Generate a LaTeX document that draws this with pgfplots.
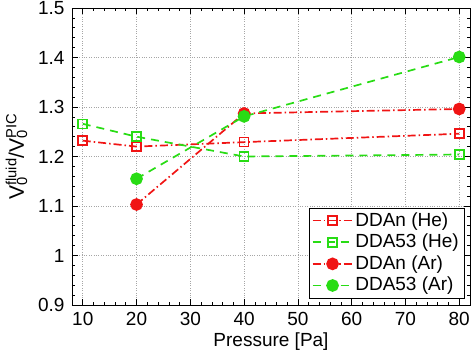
\documentclass[border=0pt]{standalone}
\usepackage{fontspec}
\setmainfont{Liberation Sans}
\usepackage{pgfplots}
\pgfplotsset{compat=1.18}
\definecolor{myred}{RGB}{240,20,20}
\definecolor{mygreen}{RGB}{40,220,20}
\begin{document}
\fontsize{19}{22}\selectfont
\begin{tikzpicture}
\begin{axis}[
  scale only axis,
  width=398pt, height=297pt,
  xmin=8, xmax=82, ymin=0.9, ymax=1.5,
  xtick={10,20,...,80},
  ytick={0.9,1,1.1,1.2,1.3,1.4,1.5},
  yticklabels={0.9,1,1.1,1.2,1.3,1.4,1.5},
  minor x tick num=4,
  minor y tick num=4,
  tick align=inside,
  major tick length=6pt, minor tick length=3pt,
  tick style={black, line width=0.6pt},
  axis line style={line width=0.8pt},
  grid=major,
  major grid style={gray!70, dotted, line width=0.7pt},
  /pgf/number format/assume math mode=true,
  ticklabel style={font=\fontsize{19}{22}\selectfont},
  xticklabel style={yshift=-1pt},
  yticklabel style={xshift=-1pt},
  label style={font=\fontsize{19}{22}\selectfont},
  xlabel={Pressure [Pa]},
  xlabel style={yshift=6pt},
  ylabel={V\rlap{\textsubscript{0}}\textsuperscript{fluid}/V\rlap{\textsubscript{0}}\textsuperscript{PIC}},
  ylabel style={yshift=-2pt, font=\fontsize{21}{24}\selectfont},
  legend cell align=left,
  legend style={at={(1,0)}, anchor=south east, xshift=-6pt, yshift=7pt,
    font=\fontsize{19}{22}\selectfont, draw=black,
    row sep=1pt, inner xsep=3pt, inner ysep=2pt},
  legend image code/.code={
    \draw[mark repeat=2,mark phase=2] plot coordinates {(0cm,0cm) (0.7cm,0cm) (1.4cm,0cm)};
  },
]
\addplot[myred, line width=1.7pt, dash pattern=on 8pt off 3pt on 1.5pt off 3pt, mark=square, mark size=4.5pt, mark options={solid, line width=1.6pt}]
  coordinates {(10,1.232) (20,1.220) (40,1.229) (80,1.246)};
\addlegendentry{DDAn (He)}
\addplot[mygreen, line width=1.7pt, dash pattern=on 8pt off 6pt, mark=square, mark size=4.5pt, mark options={solid, line width=1.6pt}]
  coordinates {(10,1.266) (20,1.240) (40,1.200) (80,1.204)};
\addlegendentry{DDA53 (He)}
\addplot[myred, line width=1.7pt, dash pattern=on 8pt off 3pt on 1.5pt off 3pt, mark=*, mark size=5.5pt, mark options={solid}]
  coordinates {(20,1.103) (40,1.287) (80,1.296)};
\addlegendentry{DDAn (Ar)}
\addplot[mygreen, line width=1.7pt, dash pattern=on 8pt off 6pt, mark=*, mark size=5.5pt, mark options={solid}]
  coordinates {(20,1.155) (40,1.281) (80,1.401)};
\addlegendentry{DDA53 (Ar)}
\end{axis}
\pgfresetboundingbox
\path[use as bounding box] (-72pt,-47pt) rectangle (402pt,305pt);
\end{tikzpicture}
\end{document}
